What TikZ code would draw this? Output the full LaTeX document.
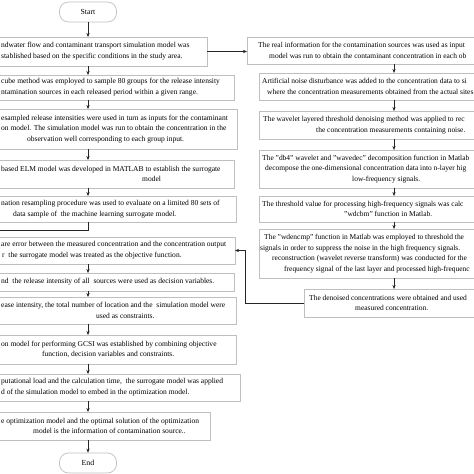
\documentclass[tikz,border=0pt]{standalone}
\usepackage{fontspec}
\setmainfont{Liberation Serif}
\usetikzlibrary{arrows.meta,fit}
\begin{document}
\begin{tikzpicture}[x=1bp,y=-1bp,
  box/.style={draw=gray!50, line width=0.7bp, fill=white, inner sep=0pt, outer sep=0pt},
  ltxt/.style={anchor=west, inner sep=0pt, align=left, font=\fontsize{7.55}{10.8}\selectfont},
  rtxt/.style={anchor=west, inner sep=0pt, align=left, font=\fontsize{7.5}{10.6}\selectfont},
  term/.style={draw=gray!50, line width=0.7bp, fill=white, rounded corners=9bp, minimum width=57bp, minimum height=20bp, inner sep=0pt, font=\fontsize{7.8}{9}\selectfont},
  arr/.style={-{Stealth[length=4bp,width=3.2bp]}, line width=0.5bp, draw=black!85},
  ln/.style={line width=0.5bp, draw=black!85}]

\useasboundingbox (0,0) rectangle (474,474);
\clip (0,0) rectangle (474,474);
\fill[white] (0,0) rectangle (474,474);

\coordinate (lx) at (88,0);
\coordinate (rx) at (394,0);
\coordinate (vx) at (245,0);
\coordinate (lout) at (-10,230);

% terminals
\node[term] (start) at (88,12) {Start};
\node[term] (end) at (88,463) {End};

% left column boxes
\node[box, fit={(-60,37) (207,66)}] (b1) {};
\node[box, fit={(-60,75) (234,100)}] (b2) {};
\node[box, fit={(-60,109) (237,149)}] (b3) {};
\node[box, fit={(-60,160) (234,188)}] (b4) {};
\node[box, fit={(-60,196) (236,222)}] (b5) {};
\node[box, fit={(-60,237) (235,264)}] (b6) {};
\node[box, fit={(-60,273) (234,291)}] (b7) {};
\node[box, fit={(-60,297) (236,324)}] (b8) {};
\node[box, fit={(-60,335) (236,364)}] (b9) {};
\node[box, fit={(-60,374) (240,401)}] (b10) {};
\node[box, fit={(-60,412) (210,440)}] (b11) {};

% right column boxes
\node[box, fit={(247,37) (520,64)}] (r1) {};
\node[box, fit={(259,73) (520,100)}] (r2) {};
\node[box, fit={(259,111) (520,139)}] (r3) {};
\node[box, fit={(259,150) (520,188)}] (r4) {};
\node[box, fit={(259,196) (520,222)}] (r5) {};
\node[box, fit={(259,229) (520,278)}] (r6) {};
\node[box, fit={(304,289) (520,317)}] (r7) {};

% left texts
\node[ltxt] (t1) at (1,51.5) {ndwater flow and contaminant transport simulation model was\\stablished based on the specific conditions in the study area.};
\node[ltxt] (t2) at (1,87.5) {cube method was employed to sample 80 groups for the release intensity\\ntamination sources in each released period within a given range.};
\node[ltxt] (t3) at (1,129) {esampled release intensities were used in turn as inputs for the contaminant\\on model. The simulation model was run to obtain the concentration in the\\\hspace*{26bp}observation well corresponding to each group input.};
\node[ltxt] (t4) at (1,174) {based ELM model was developed in MATLAB to establish the surrogate\\\hspace*{141bp}model};
\node[ltxt] (t5) at (1,209) {nation resampling procedure was used to evaluate on a limited 80 sets of\\\hspace*{12bp}data sample of~ the machine learning surrogate model.};
\node[ltxt] (t6) at (1,250.5) {are error between the measured concentration and the concentration output\\\hspace*{1bp}r~ the surrogate model was treated as the objective function.};
\node[ltxt] (t7) at (1,282) {nd~ the release intensity of all~ sources were used as decision variables.};
\node[ltxt] (t8) at (1,310.5) {ease intensity, the total number of location and the~ simulation model were\\\hspace*{95bp}used as constraints.};
\node[ltxt] (t9) at (1,349.5) {on model for performing GCSI was established by combining objective\\\hspace*{41bp}function, decision variables and constraints.};
\node[ltxt] (t10) at (1,387.5) {putational load and the calculation time,~ the surrogate model was applied\\d of the simulation model to embed in the optimization model.};
\node[ltxt] (t11) at (1,426) {e optimization model and the optimal solution of the optimization\\\hspace*{32bp}model is the information of contamination source..};

% right texts
\node[rtxt] (u1) at (258,50.5) {The real information for the contamination sources was used as input\\\hspace*{11bp}model was run to obtain the contaminant concentration in each ob};
\node[rtxt] (u2) at (262,86.5) {Artificial noise disturbance was added to the concentration data to si\\\hspace*{5bp}where the concentration measurements obtained from the actual sites};
\node[rtxt] (u3) at (263,125) {The wavelet layered threshold denoising method was applied to rec\\\hspace*{53bp}the concentration measurements containing noise.};
\node[rtxt] (u4) at (262,169) {The "db4" wavelet and "wavedec" decomposition function in Matlab\\\hspace*{3bp}decompose the one-dimensional concentration data into n-layer hig\\\hspace*{90bp}low-frequency signals.};
\node[rtxt] (u5) at (262,209) {The threshold value for processing high-frequency signals was calc\\\hspace*{82bp}"wdcbm" function in Matlab.};
\node[rtxt] (u6) at (260,253.5) {\hspace*{4bp}The "wdencmp" function in Matlab was employed to threshold the\\signals in order to suppress the noise in the high frequency signals.\\\hspace*{12bp}reconstruction (wavelet reverse transform) was conducted for the\\\hspace*{24bp}frequency signal of the last layer and processed high-frequenc};
\node[rtxt] (u7) at (309,303) {The denoised concentrations were obtained and used\\\hspace*{46bp}measured concentration.};

% left column connectors
\draw[arr] (start.south) -- (b1.north -| start);
\draw[arr] (b1.south -| lx) -- (b2.north -| lx);
\draw[arr] (b2.south -| lx) -- (b3.north -| lx);
\draw[arr] (b3.south -| lx) -- (b4.north -| lx);
\draw[arr] (b4.south -| lx) -- (b5.north -| lx);
\draw[ln] (b5.south -| lx) |- (lout);
\draw[arr] (b6.south -| lx) -- (b7.north -| lx);
\draw[arr] (b7.south -| lx) -- (b8.north -| lx);
\draw[arr] (b8.south -| lx) -- (b9.north -| lx);
\draw[arr] (b9.south -| lx) -- (b10.north -| lx);
\draw[arr] (b10.south -| lx) -- (b11.north -| lx);
\draw[arr] (b11.south -| lx) -- (end.north);

% right column connectors
\draw[arr] (b1.east) -- (b1.east -| r1.west);
\draw[arr] (r1.south -| rx) -- (r2.north -| rx);
\draw[arr] (r2.south -| rx) -- (r3.north -| rx);
\draw[arr] (r3.south -| rx) -- (r4.north -| rx);
\draw[arr] (r4.south -| rx) -- (r5.north -| rx);
\draw[arr] (r5.south -| rx) -- (r6.north -| rx);
\draw[arr] (r6.south -| rx) -- (r7.north -| rx);
\draw[arr] (r7.west) -- (r7.west -| vx) |- (b6.east);
\end{tikzpicture}
\end{document}
